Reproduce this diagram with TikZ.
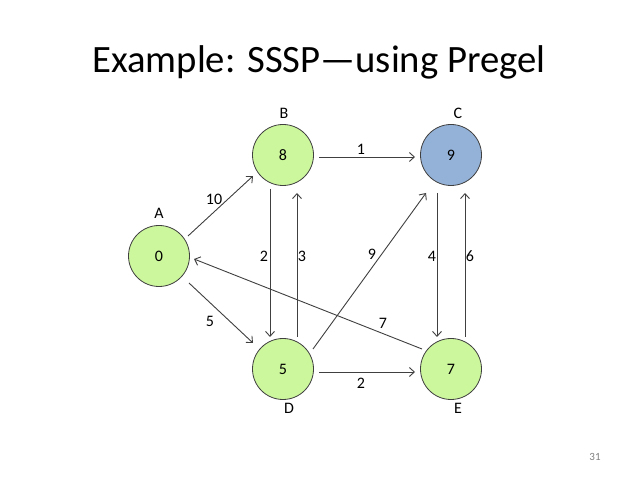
\documentclass[tikz,border=0pt]{standalone}
\usepackage{fontspec}
\setmainfont{Carlito}
\usetikzlibrary{arrows.meta,calc}
\definecolor{ngreen}{HTML}{CCF79C}
\definecolor{nblue}{HTML}{94B2D8}
\definecolor{ln}{HTML}{404040}
\tikzset{
  vtx/.style={circle,draw=ln,line width=0.8pt,minimum size=61pt,inner sep=0pt,font=\fontsize{16}{16}\selectfont},
  lbl/.style={font=\fontsize{16}{16}\selectfont,inner sep=0pt},
  edge/.style={draw=ln,line width=0.9pt,-{Straight Barb[length=5pt,width=9pt]}}
}
\begin{document}
\begin{tikzpicture}[x=1pt,y=-1pt]
\useasboundingbox[fill=white] (0,0) rectangle (638,478);
\node[font=\fontsize{38.7}{40}\selectfont,inner sep=0pt] (title) at (319,62) {Example: SSSP—using Pregel};
\node[vtx,fill=ngreen] (A) at (159,256) {0};
\node[vtx,fill=ngreen] (B) at (283,155) {8};
\node[vtx,fill=nblue] (C) at (451,155) {9};
\node[vtx,fill=ngreen] (D) at (283,369) {5};
\node[vtx,fill=ngreen] (E) at (451,369) {7};
\node[lbl] (lA) at (159,213) {A};
\node[lbl] (lB) at (284,113) {B};
\node[lbl] (lC) at (458,113) {C};
\node[lbl] (lD) at (289,408) {D};
\node[lbl] (lE) at (458,408) {E};
% edges
\draw[edge] ($(A)+(29,-20)$) -- ($(B)+(-30,21)$);
\draw[edge] ($(B)+(36,2)$) -- ($(C)+(-36,2)$);
\draw[edge] ($(B)+(-13,34)$) -- ($(D)+(-13,-32)$);
\draw[edge] ($(D)+(14,-32)$) -- ($(B)+(14,38)$);
\draw[edge] ($(D)+(30,-20)$) -- ($(C)+(-25,38)$);
\draw[edge] ($(C)+(-14,38)$) -- ($(E)+(-14,-32)$);
\draw[edge] ($(E)+(14,-32)$) -- ($(C)+(14,38)$);
\draw[edge] ($(E)+(-29,-20)$) -- ($(A)+(35,3)$);
\draw[edge] ($(A)+(30,27)$) -- ($(D)+(-30,-26)$);
\draw[edge] ($(D)+(36,3)$) -- ($(E)+(-36,3)$);
% weights
\node[lbl] (w1) at (214,199) {10};
\node[lbl] (w2) at (361,149) {1};
\node[lbl] (w3) at (264,256) {2};
\node[lbl] (w4) at (302,256) {3};
\node[lbl] (w5) at (372,254) {9};
\node[lbl] (w6) at (432,256) {4};
\node[lbl] (w7) at (470,256) {6};
\node[lbl] (w8) at (383,323) {7};
\node[lbl] (w9) at (210,321) {5};
\node[lbl] (w10) at (361,383) {2};
\node[font=\fontsize{11}{11}\selectfont,text=gray,inner sep=0pt] (pg) at (595,457) {31};
\end{tikzpicture}
\end{document}
